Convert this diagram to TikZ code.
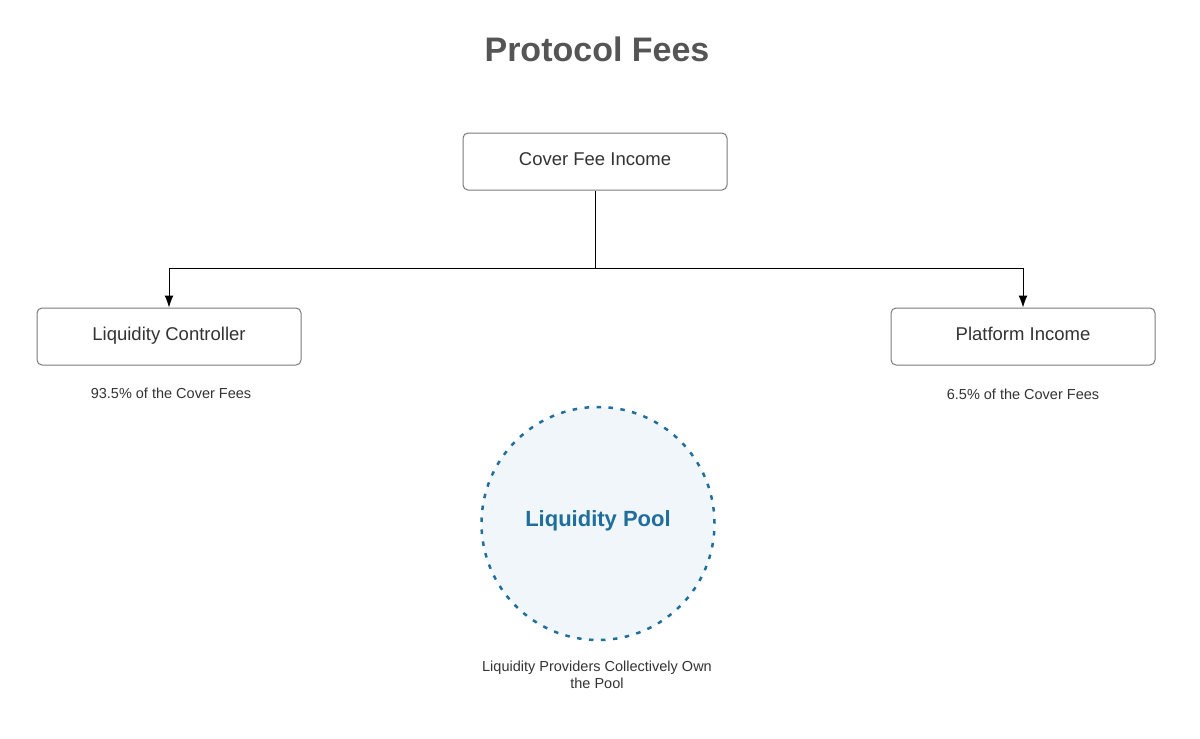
\documentclass[tikz,border=0pt]{standalone}
\usepackage{fontspec}
\setmainfont{Liberation Sans}
\usetikzlibrary{arrows.meta}
\definecolor{txt}{HTML}{333333}
\definecolor{ttl}{HTML}{555555}
\definecolor{bord}{HTML}{7A7A7A}
\definecolor{poolb}{HTML}{1F6E9C}
\definecolor{poolf}{HTML}{F1F6FA}
\tikzset{
  box/.style={draw=bord, line width=1pt, rounded corners=5pt, minimum width=264pt, minimum height=57pt, inner sep=0pt, text height=13pt, text depth=5pt, font=\fontsize{18.5}{22}\selectfont, text=txt},
  note/.style={font=\fontsize{14.5}{17}\selectfont, text=txt, align=center, inner sep=0pt},
  arr/.style={line width=1pt, draw=black, -{Latex[length=12pt,width=9pt]}},
  conn/.style={line width=1pt, draw=black}
}
\begin{document}
\begin{tikzpicture}[x=1pt,y=-1pt]
\useasboundingbox (0,0) rectangle (1200,739);
\node[font=\bfseries\fontsize{34}{40}\selectfont, text=ttl] (title) at (597,49) {Protocol Fees};
\node[box] (cover) at (595,161.5) {Cover Fee Income};
\node[box] (lc) at (169,336.5) {Liquidity Controller};
\node[box] (pi) at (1023,336.5) {Platform Income};
\node[note] (lcn) at (171,393) {93.5\% of the Cover Fees};
\node[note] (pin) at (1023,394) {6.5\% of the Cover Fees};
\node[circle, draw=poolb, fill=poolf, line width=2.5pt, dash pattern=on 4.5pt off 7.5pt, minimum size=233pt, inner sep=0pt] (pool) at (598,523.5) {};
\node[font=\bfseries\fontsize{22}{26}\selectfont, text=poolb] (poolt) at (598,521) {Liquidity Pool};
\node[note] (pooln) at (597,675) {Liquidity Providers Collectively Own\\the Pool};
\coordinate (j) at (595,268);
\draw[conn] (cover.south) -- (j);
\draw[arr] (j) -| (lc.north);
\draw[arr] (j) -| (pi.north);
\end{tikzpicture}
\end{document}
